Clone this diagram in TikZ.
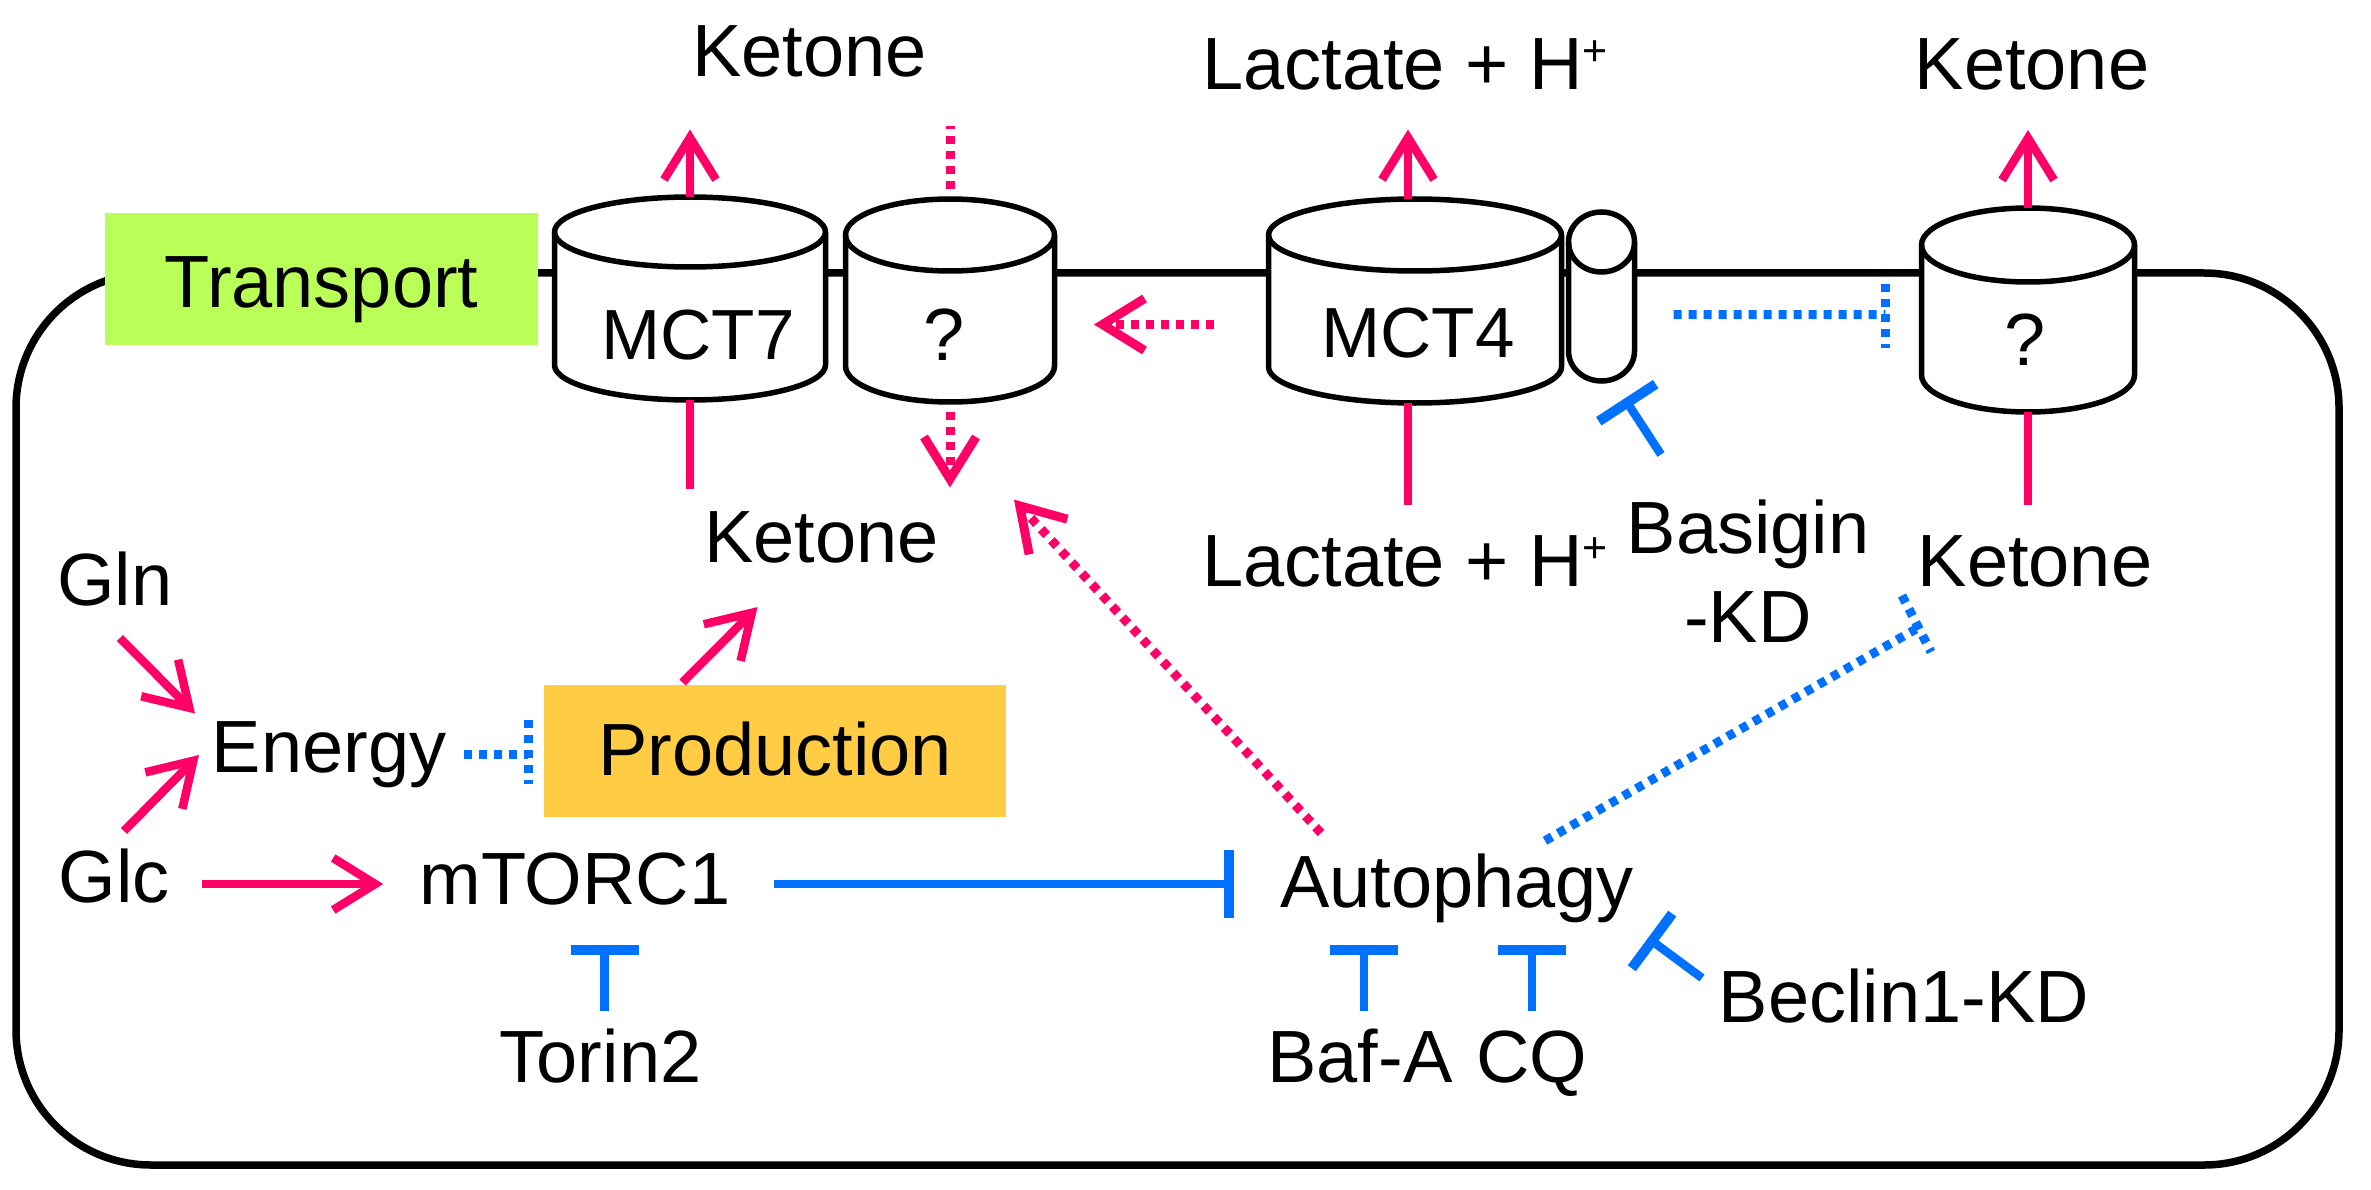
\documentclass[tikz,border=0pt]{standalone}
\usepackage{fontspec}
\setmainfont{Liberation Sans}
\usetikzlibrary{positioning, arrows.meta}
\definecolor{flowpink}{HTML}{FF0066}
\definecolor{blockblue}{HTML}{0070FF}
\definecolor{transportgreen}{HTML}{B9FF57}
\definecolor{productionorange}{HTML}{FFCC44}
\newcommand{\hplus}{H\raisebox{24pt}{\fontsize{43}{43}\selectfont +}}
% body of a carrier: node name, x radius, y radius
\newcommand{\carrierbody}[3]{
    \draw[line width=5.5pt, fill=white] ([yshift=-#3]#1.north west) arc[start angle=180, end angle=0, x radius=#2, y radius=#3] -- ([yshift=#3]#1.south east) arc[start angle=0, end angle=-180, x radius=#2, y radius=#3] -- cycle;
    \draw[line width=5.5pt] ([yshift=-#3]#1.north west) arc[start angle=180, end angle=360, x radius=#2, y radius=#3];
}
\tikzset{
    >={Straight Barb[length=42pt,width=52pt]}, % open arrow heads
    lbl/.style={
            font=\fontsize{74}{89}\selectfont,
            inner sep=0pt,
            text height=52pt, % same centre for every label
            text depth=16pt,
        },
    tagbox/.style={
            font=\fontsize{74}{89}\selectfont,
            inner sep=0pt,
            minimum height=132pt,
            text depth=0pt,
        },
    carrier/.style={
            inner sep=0pt,
            outer sep=0pt,
        },
    flow/.style={draw=flowpink, line width=8.5pt},
    flowdot/.style={flow, line width=9pt, dash pattern=on 8pt off 7pt},
    block/.style={draw=blockblue, line width=8.5pt, -{Bar[width=68pt,line width=10pt]}},
    blockdot/.style={draw=blockblue, line width=9pt, dash pattern=on 8pt off 7pt},
}
\begin{document}
\begin{tikzpicture}[x=1pt,y=-1pt]
                \useasboundingbox (0,0) rectangle (2371,1190);

                % cell
                \node[draw, line width=7.5pt, rounded corners=135pt, minimum width=2323pt, minimum height=892pt] (cell) at (1177.5,719) {};

                % carriers
                \node[carrier, minimum width=271pt, minimum height=203pt] (mct7) at (690,298.5) {};
                \node[carrier, right of=mct7, node distance=260pt, yshift=-2pt, minimum width=209pt, minimum height=203pt] (qa) {};
                \node[carrier, right of=qa, node distance=465pt, yshift=-0.5pt, minimum width=293pt, minimum height=204pt] (mct4) {};
                \node[carrier, right of=mct4, node distance=186.5pt, yshift=4.5pt, minimum width=66pt, minimum height=169pt] (bsg) {};
                \node[carrier, right of=bsg, node distance=426.5pt, yshift=-13.5pt, minimum width=213pt, minimum height=204pt] (rq) {};
                \carrierbody{mct7}{135.5pt}{35pt}
                \carrierbody{qa}{104.5pt}{36pt}
                \carrierbody{bsg}{33pt}{30pt}
                \carrierbody{mct4}{146.5pt}{36pt}
                \carrierbody{rq}{106.5pt}{37pt}

                % texts in the carriers
                \node[lbl, font=\fontsize{71}{89}\selectfont, below of=mct7, node distance=42.5pt, xshift=8pt] (mct7text) {MCT7};
                \node[lbl, below of=qa, node distance=41.5pt, xshift=-6pt] (qatext) {?};
                \node[lbl, font=\fontsize{71}{89}\selectfont, below of=mct4, node distance=38pt, xshift=3pt] (mct4text) {MCT4};
                \node[lbl, below of=rq, node distance=37.5pt, xshift=-3pt] (rqtext) {?};

                % boxes
                \node[tagbox, fill=transportgreen, text height=56pt, minimum width=433pt] (transport) at (321.5,279) {Transport};
                \node[tagbox, fill=productionorange, text height=50pt, minimum width=462pt] (production) at (775,750.5) {Production};

                % labels
                \node[lbl] (ketoneA) at (809.5,59) {Ketone};
                \node[lbl] (lactateA) at (1405,71.5) {Lactate + \hplus};
                \node[lbl, right of=lactateA, node distance=627pt] (ketoneB) {Ketone};
                \node[lbl] (ketoneC) at (821.5,544.6) {Ketone};
                \node[lbl, below of=lactateA, node distance=497pt] (lactateB) {Lactate + \hplus};
                \node[lbl, right of=lactateB, node distance=630pt] (ketoneD) {Ketone};
                \node[font=\fontsize{74}{89}\selectfont, inner sep=0pt, align=center] (basigin) at (1748,571.5) {Basigin\\-KD};
                \node[lbl] (gln) at (115,587) {Gln};
                \node[lbl, below of=gln, node distance=297pt, xshift=-1pt] (glc) {Glc};
                \node[lbl] (energy) at (329,754) {Energy};
                \node[lbl, right of=glc, node distance=461pt, yshift=-2pt] (mtorc) {mTORC1};
                \node[lbl, below of=mtorc, node distance=178pt, xshift=25.5pt] (torin) {Torin2};
                \node[lbl, right of=mtorc, node distance=882pt, yshift=-3pt] (autophagy) {Autophagy};
                \node[lbl, below of=autophagy, node distance=175pt, xshift=-97pt] (baf) {Baf-A};
                \node[lbl, right of=baf, node distance=172pt] (cq) {CQ};
                \node[lbl] (beclin) at (1904,1004) {Beclin1-KD};

                % edges through the membrane
                \draw[flow, ->] (mct7.north) -- ([yshift=67.5pt]mct7.north);
                \draw[flow] (mct7.south) -- ([yshift=-88.5pt]mct7.south);
                \draw[flowdot] ([yshift=9.5pt]qa.north) -- ([yshift=72.5pt]qa.north);
                \draw[flowdot, ->] ([yshift=-9.5pt]qa.south) -- ([yshift=-85.5pt]qa.south);
                \draw[flow, ->] ([xshift=-7pt]mct4.north) -- ([shift={(-7,-69.5)}]mct4.north);
                \draw[flow] ([xshift=-7pt]mct4.south) -- ([shift={(-7,102)}]mct4.south);
                \draw[flow, ->] (rq.north) -- ([yshift=78pt]rq.north);
                \draw[flow] (rq.south) -- ([yshift=-93pt]rq.south);
                \draw[flowdot, ->] ([shift={(-201,23.5)}]mct4.center) -- ([shift={(144,24)}]qa.center);

                % edges in the cell
                \draw[flow, ->] ([shift={(5,51)}]gln.center) -- ([shift={(-134,-40.5)}]energy.center);
                \draw[flow, ->] ([shift={(10,-53)}]glc.center) -- ([shift={(-130,1)}]energy.center);
                \draw[flow, ->, shorten <=32pt, shorten >=36pt] (glc.east) -- (glc.east -| mtorc.west);
                \draw[flow, ->] ([shift={(-92.5,-68)}]production.center) -- ([shift={(-64,62.5)}]ketoneC.center);
                \draw[flowdot, ->] ([shift={(-136,-56)}]autophagy.center) -- ([shift={(192.5,-45)}]ketoneC.center);

                % blocking edges
                \draw[block, shorten <=43pt, shorten >=46pt] (glc -| mtorc.east) -- (glc -| autophagy.west);
                \draw[block, shorten <=19pt, shorten >=25pt] ([xshift=4pt]torin.north) -- ([xshift=4pt]torin.north |- mtorc.south);
                \draw[block, shorten <=19pt] ([xshift=4pt]baf.north) -- ([shift={(-93,56)}]autophagy.center);
                \draw[block, shorten <=19pt] (cq.north) -- ([shift={(75,56)}]autophagy.center);
                \draw[block] ([shift={(-202,-26)}]beclin.center) -- ([shift={(191,49)}]autophagy.center);
                \draw[block] ([shift={(-87,-117)}]basigin.center) -- ([shift={(23,102)}]bsg.center);

                % dotted blocking edges
                \draw[blockdot] ([shift={(72,18)}]bsg.center) -- ([shift={(-142.6,4.6)}]rq.center);
                \draw[blockdot] ([shift={(-142.6,-26)}]rq.center) -- ([shift={(-142.6,38)}]rq.center);
                \draw[blockdot, shorten <=18pt] (energy.east) -- ([shift={(-247,3.5)}]production.center);
                \draw[blockdot] ([shift={(-247,-30.5)}]production.center) -- ([shift={(-247,33.5)}]production.center);
                \draw[blockdot] ([shift={(88,-48.3)}]autophagy.center) -- ([shift={(-119,60.5)}]ketoneD.center);
                \draw[blockdot] ([shift={(-133,27)}]ketoneD.center) -- ([shift={(-104,83.5)}]ketoneD.center);

        \end{tikzpicture}
\end{document}
